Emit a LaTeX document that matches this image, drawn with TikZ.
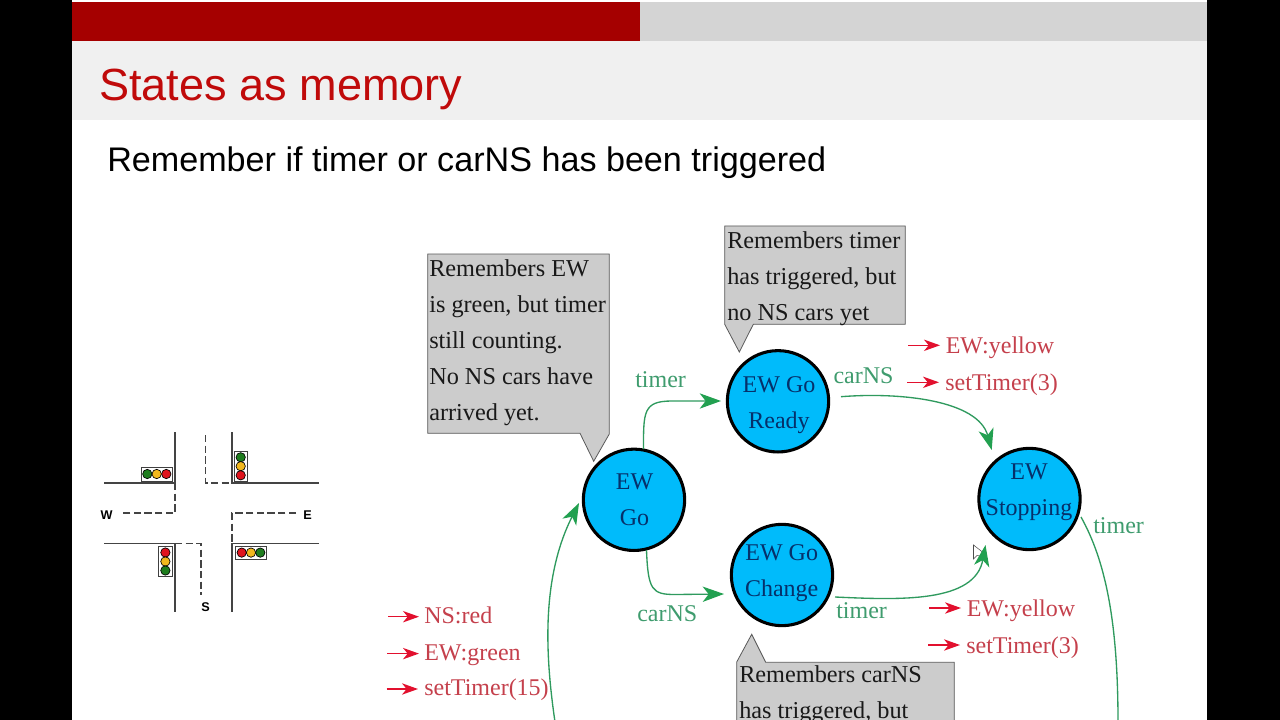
\documentclass[tikz,border=0pt]{standalone}
\usepackage{fontspec}
\setmainfont{Liberation Serif}
\newfontfamily\slidesans{Liberation Sans}
\usetikzlibrary{arrows.meta}
\definecolor{barred}{HTML}{A50000}
\definecolor{bargrey}{HTML}{D4D4D4}
\definecolor{headbg}{HTML}{F0F0F0}
\definecolor{titlered}{HTML}{C00A0A}
\definecolor{statefill}{HTML}{00BBFB}
\definecolor{statetext}{HTML}{06306A}
\definecolor{calloutfill}{HTML}{CCCCCC}
\definecolor{greenline}{HTML}{2F9A5E}
\definecolor{greentip}{HTML}{22A050}
\definecolor{greentext}{HTML}{3F9C6E}
\definecolor{redline}{HTML}{E2102E}
\definecolor{redtext}{HTML}{C5404C}
\definecolor{roadgrey}{HTML}{444444}
\definecolor{tlgreen}{HTML}{1E7D1E}
\definecolor{tlyellow}{HTML}{F2B81E}
\definecolor{tlred}{HTML}{E0141E}
\tikzset{
  x=0.75pt,y=-0.75pt,
  statenode/.style={circle,draw=black,line width=2.3pt,fill=statefill,minimum size=76pt,inner sep=0pt},
  statelabel/.style={font=\fontsize{18}{27}\selectfont,align=center,text=statetext,anchor=base,inner sep=0pt},
  calloutbox/.style={draw=black!65,line width=0.6pt,fill=calloutfill},
  callouttext/.style={font=\fontsize{18.2}{27}\selectfont,align=left,anchor=base west,inner sep=0pt,text=black!90},
  glabel/.style={font=\fontsize{18}{20}\selectfont,text=greentext,anchor=base west,inner sep=0pt},
  rlabel/.style={font=\fontsize{18}{20}\selectfont,text=redtext,anchor=base west,inner sep=0pt},
  garrow/.style={draw=greenline,line width=1pt,-{Stealth[length=16pt,width=11.5pt,inset=4.5pt,color=greentip]}},
  gline/.style={draw=greenline,line width=1pt},
  rarrow/.style={draw=redline,line width=1.1pt,-{Stealth[length=12pt,width=8.5pt,inset=3.5pt]}},
  road/.style={draw=roadgrey,line width=0.9pt},
  roaddash/.style={draw=roadgrey,line width=0.9pt,dash pattern=on 5.5pt off 2.5pt},
  lamp/.style={circle,draw=black,line width=0.5pt,minimum size=7pt,inner sep=0pt},
  lampbox/.style={draw=black!75,line width=0.7pt,fill=white},
  compass/.style={font=\slidesans\bfseries\fontsize{9.5}{10}\selectfont,inner sep=0pt},
}
\begin{document}
\begin{tikzpicture}
\useasboundingbox (0,0) rectangle (1280,720);
\clip (0,0) rectangle (1280,720);
% slide
\fill[black] (0,0) rectangle (1280,720);
\fill[white] (72,0) rectangle (1207,720);
\fill[barred] (72,2) rectangle (640,41);
\fill[bargrey] (640,2) rectangle (1207,41);
\fill[headbg] (72,41) rectangle (1207,120);
\node[font=\slidesans\fontsize{33.8}{36}\selectfont,text=titlered,anchor=base west,inner sep=0pt] (title) at (99,101) {States as memory};
\node[font=\slidesans\fontsize{25.6}{30}\selectfont,anchor=base west,inner sep=0pt] (subtitle) at (107,171.8) {Remember if timer or carNS has been triggered};
% intersection
\draw[road] (175,432) -- (175,483) -- (104,483);
\draw[road] (232,432) -- (232,483) -- (319,483);
\draw[road] (104,543.5) -- (175,543.5) -- (175,612);
\draw[road] (319,543.5) -- (232,543.5) -- (232,612);
\draw[roaddash] (205.5,435) -- (205.5,483) -- (232,483);
\draw[roaddash] (175,483) -- (175,513) -- (120,513);
\draw[roaddash] (296,513) -- (232,513) -- (232,543);
\draw[roaddash] (175,543.5) -- (201,543.5) -- (201,595);
\node[compass] (w) at (106.5,515) {W};
\node[compass] (e) at (307.5,515) {E};
\node[compass] (s) at (205.5,607) {S};
\draw[lampbox] (141,467.3) rectangle (172.3,481);
\node[lamp,fill=tlgreen] (l1) at (147.3,474) {};
\node[lamp,fill=tlyellow] (l2) at (156.7,474) {};
\node[lamp,fill=tlred] (l3) at (166.3,474) {};
\draw[lampbox] (234.3,451) rectangle (247.6,481.7);
\node[lamp,fill=tlgreen] (l4) at (240.7,457.3) {};
\node[lamp,fill=tlyellow] (l5) at (240.7,466.2) {};
\node[lamp,fill=tlred] (l6) at (240.7,475.3) {};
\draw[lampbox] (158.7,546) rectangle (172.3,576.7);
\node[lamp,fill=tlred] (l7) at (165.4,552.5) {};
\node[lamp,fill=tlyellow] (l8) at (165.4,561.5) {};
\node[lamp,fill=tlgreen] (l9) at (165.4,570.5) {};
\draw[lampbox] (235.7,546) rectangle (266.7,559);
\node[lamp,fill=tlred] (l10) at (241.7,552.6) {};
\node[lamp,fill=tlyellow] (l11) at (251,552.6) {};
\node[lamp,fill=tlgreen] (l12) at (260.3,552.6) {};
% callouts
\draw[calloutbox] (427.7,254) -- (609.3,254) -- (609.3,434) -- (593.7,461.3) -- (580,433.3) -- (427.7,433.3) -- cycle;
\node[callouttext] (c1) at (429,420.6) {Remembers EW\\is green, but timer\\still counting.\\No NS cars have\\arrived yet.};
\draw[calloutbox] (724.7,226) -- (905.3,226) -- (905.3,324.3) -- (753.3,324.3) -- (739.3,352) -- (724.7,324.3) -- cycle;
\node[callouttext] (c2) at (727,320.6) {Remembers timer\\has triggered, but\\no NS cars yet};
\draw[calloutbox] (736.7,730) -- (736.7,662) -- (751.7,634.3) -- (765.7,662.3) -- (954.3,662.3) -- (954.3,730) -- cycle;
\node[callouttext] (c3) at (739,718.3) {Remembers carNS\\has triggered, but};
% states
\node[statenode] (go) at (634,499.8) {};
\node[statenode] (ready) at (778,401.3) {};
\node[statenode] (change) at (782,575) {};
\node[statenode] (stop) at (1029.5,499) {};
\node[statelabel] (go-t) at (634.5,525) {EW\\Go};
\node[statelabel] (ready-t) at (779,428.3) {EW Go\\Ready};
\node[statelabel] (change-t) at (781.7,596.6) {EW Go\\Change};
\node[statelabel] (stop-t) at (1029,515) {EW\\Stopping};
% cursor
\draw[draw=black!70,line width=0.4pt,fill=white] (973.5,545) -- (973.5,559) -- (977,555.5) -- (980,556) -- (985,554) -- cycle;
% connectors
\coordinate (ready-in) at (721,401);
\coordinate (change-in) at (724,594);
\coordinate (stop-in-a) at (991.7,450);
\coordinate (stop-in-b) at (985.5,545);
\coordinate (go-in) at (579,503);
\coordinate (ready-out) at (841,396.7);
\coordinate (change-out) at (835,597);
\coordinate (go-top) at (643.5,449);
\coordinate (go-bot) at (646.5,550);
\coordinate (stop-out) at (1081,517);
\coordinate (off-right) at (1118,722);
\coordinate (off-left) at (555,722);
\draw[garrow] (go-top) .. controls (643.5,412) and (643,401) .. (672,401) -- (ready-in);
\draw[garrow] (go-bot) .. controls (648,590) and (652,594.5) .. (675,594.5) -- (change-in);
\draw[garrow] (ready-out) .. controls (900,392) and (978,400) .. (stop-in-a);
\draw[garrow] (change-out) .. controls (900,600) and (975,603) .. (stop-in-b);
\draw[gline] (stop-out) .. controls (1105,560) and (1118,620) .. (off-right);
\draw[garrow] (off-left) .. controls (546,660) and (540,580) .. (go-in);
% labels
\node[glabel] (lt1) at (635,387.8) {timer};
\node[glabel] (lc1) at (833.3,383.8) {carNS};
\node[glabel] (lc2) at (637,621.6) {carNS};
\node[glabel] (lt2) at (836,618.4) {timer};
\node[glabel] (lt3) at (1093,533.4) {timer};
% outputs
\node[rlabel] (r1) at (945.5,353.6) {EW:yellow};
\node[rlabel] (r2) at (945,390.6) {setTimer(3)};
\node[rlabel] (r3) at (966.5,616.6) {EW:yellow};
\node[rlabel] (r4) at (966,653.6) {setTimer(3)};
\node[rlabel] (r5) at (424,623.6) {NS:red};
\node[rlabel] (r6) at (424,660.4) {EW:green};
\node[rlabel] (r7) at (424,695.6) {setTimer(15)};
\coordinate (a1) at (908,345.3); \coordinate (b1) at (940,345.3);
\coordinate (a2) at (907,382.3); \coordinate (b2) at (939,382.3);
\coordinate (a3) at (929.3,608); \coordinate (b3) at (961,608);
\coordinate (a4) at (928,645); \coordinate (b4) at (960,645);
\coordinate (a5) at (388,616.7); \coordinate (b5) at (419,616.7);
\coordinate (a6) at (387,653.6); \coordinate (b6) at (419,653.6);
\coordinate (a7) at (386.7,689); \coordinate (b7) at (418,689);
\foreach \i in {1,...,7} {\draw[rarrow] (a\i) -- (b\i);}
\end{tikzpicture}
\end{document}
